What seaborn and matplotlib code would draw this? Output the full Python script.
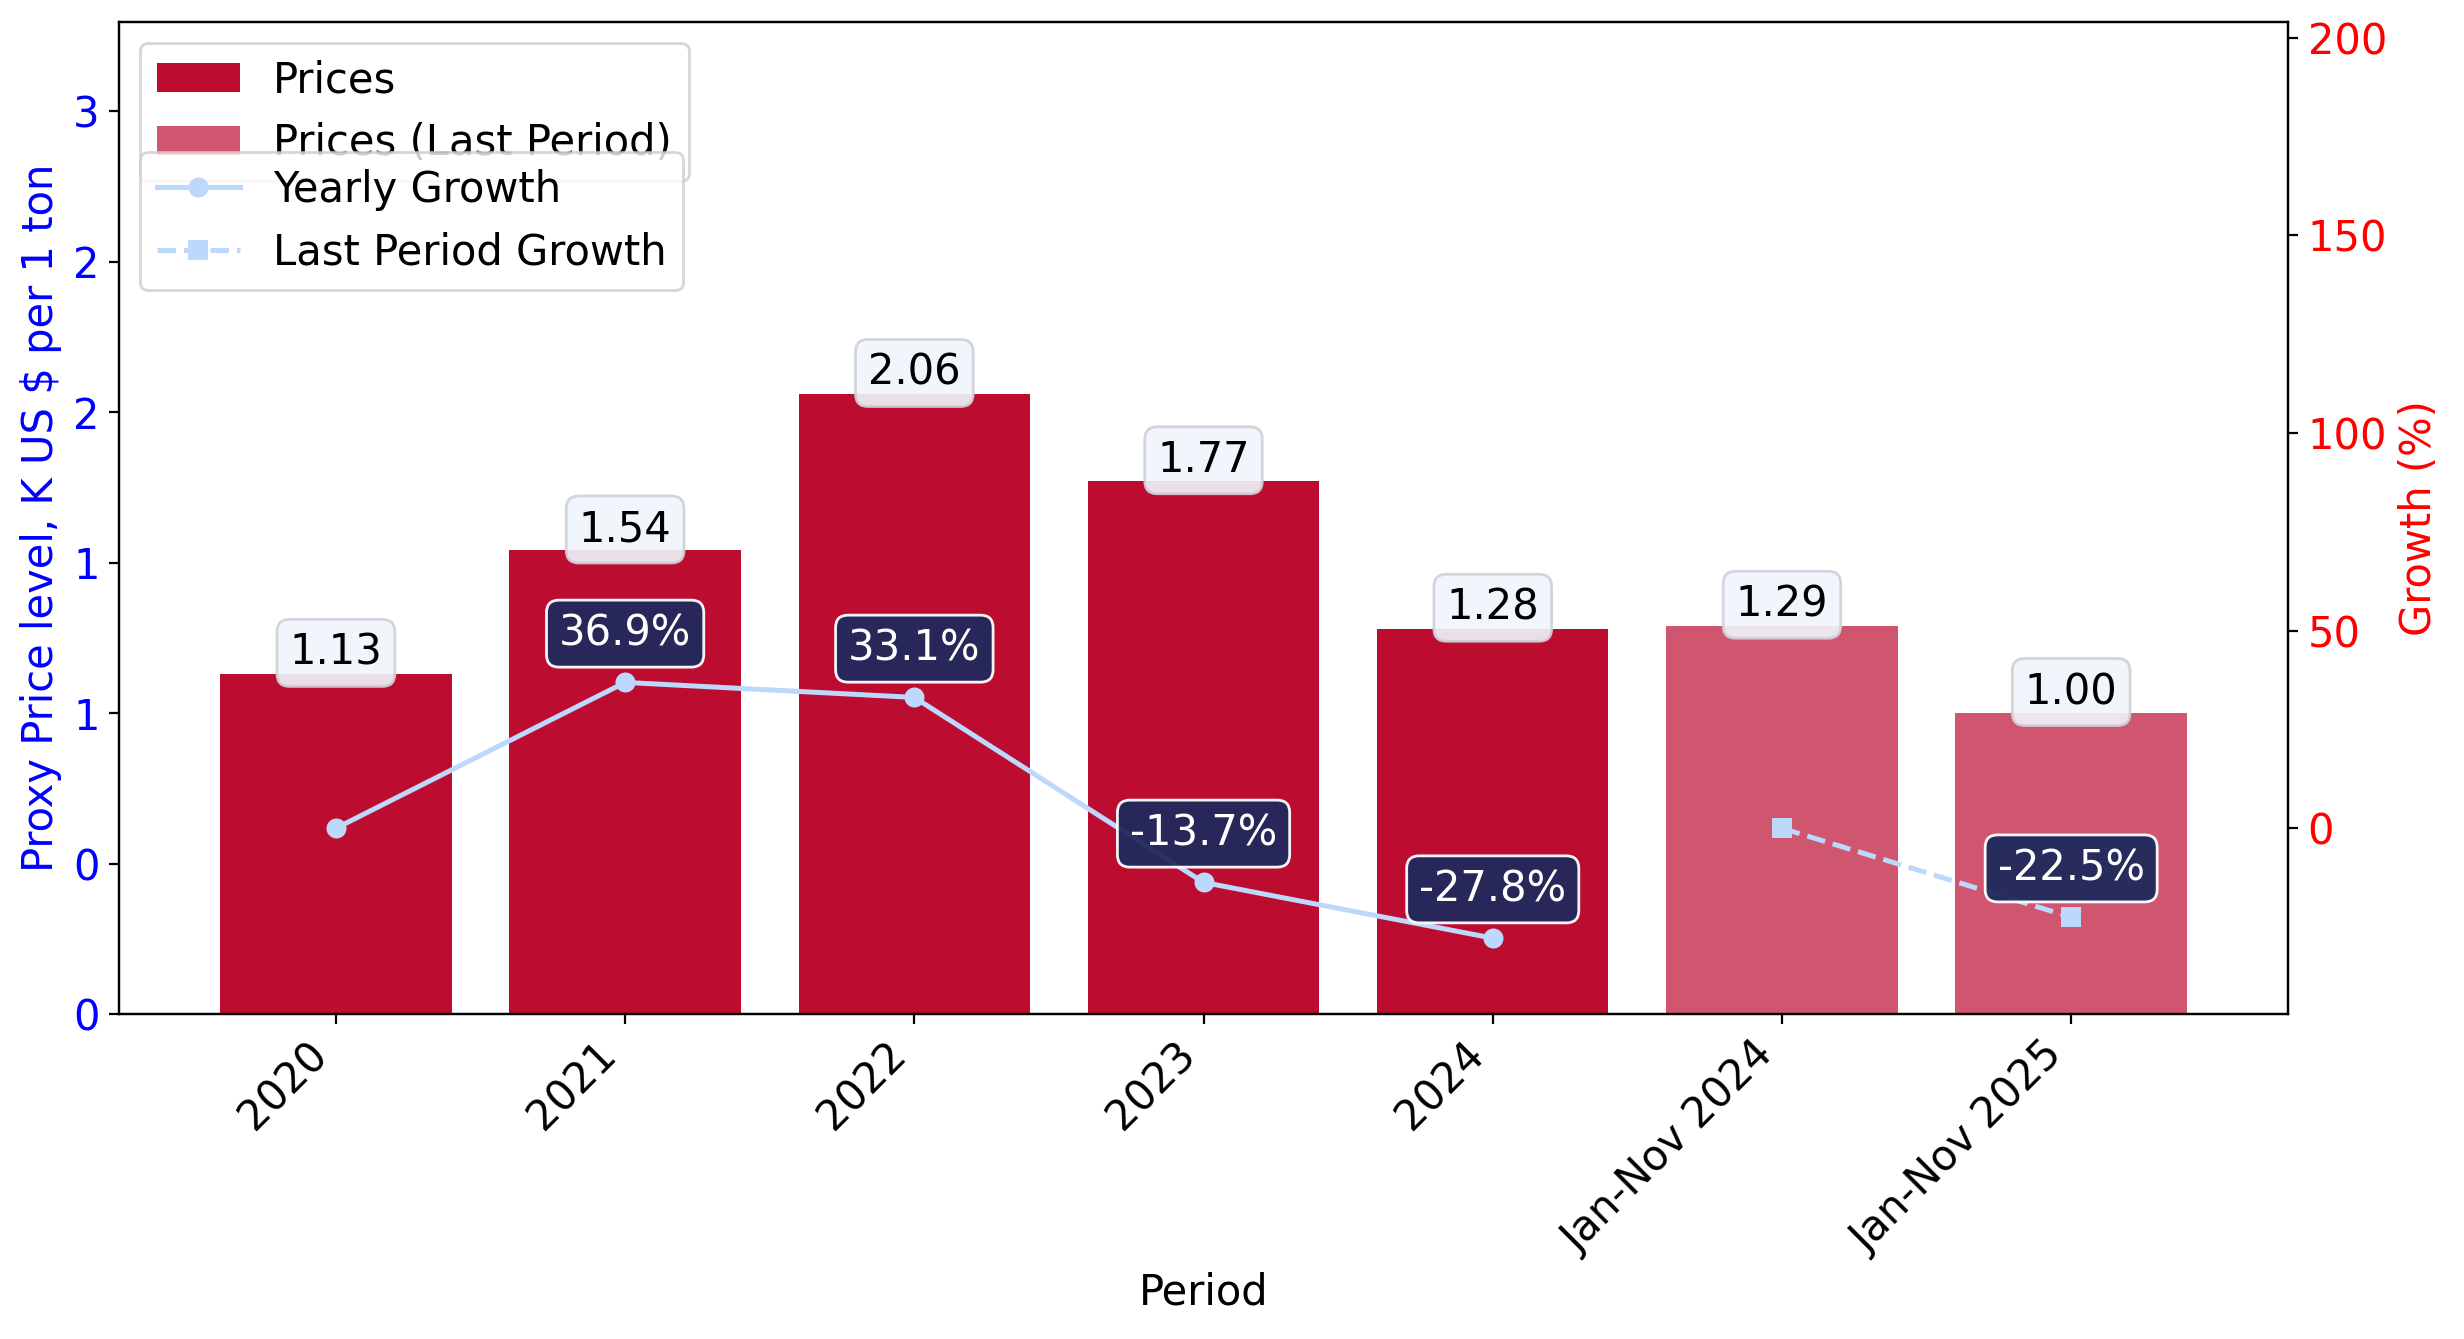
import matplotlib
matplotlib.use("Agg")
import numpy as np
import pandas as pd
import seaborn as sns
import matplotlib.pyplot as plt
from matplotlib.patches import Patch
from matplotlib.ticker import FuncFormatter

# ---- data ----
periods = ["2020", "2021", "2022", "2023", "2024", "Jan-Nov 2024", "Jan-Nov 2025"]
prices = [1.13, 1.54, 2.06, 1.77, 1.28, 1.29, 1.00]
price_types = ["Prices"] * 5 + ["Prices (Last Period)"] * 2
yearly_periods = ["2020", "2021", "2022", "2023", "2024"]
yearly_growth = [0.0, 36.9, 33.1, -13.7, -27.8]
last_periods = ["Jan-Nov 2024", "Jan-Nov 2025"]
last_growth = [0.0, -22.5]

BAR = "#bc0c30"
BAR_LAST = "#d0556f"
LINE = "#bcd8fa"
NAVY = "#1f2a5c"
FS = 15

plt.rcParams["font.size"] = FS
plt.rcParams["font.family"] = ["DejaVu Sans"]

fig, ax = plt.subplots(figsize=(12.32, 6.695), dpi=200)
fig.subplots_adjust(left=0.0483, right=0.9286, top=0.9836, bottom=0.2427)

df = pd.DataFrame({"Period": periods, "Price": prices, "Type": price_types})
sns.barplot(data=df, x="Period", y="Price", hue="Type", order=periods,
            hue_order=["Prices", "Prices (Last Period)"],
            palette={"Prices": BAR, "Prices (Last Period)": BAR_LAST},
            dodge=False, width=0.8, saturation=1, legend=False, ax=ax)

for i, v in enumerate(prices):
    ax.text(i, v, f"{v:.2f}", ha="center", va="bottom", fontsize=FS, color="black",
            bbox=dict(boxstyle="round,pad=0.3", fc="#f0f6fc", ec="#d0d0d8", alpha=0.9))

ax.set_xlim(-0.75, 6.75)
ax.set_ylim(0, max(prices) * 1.6)
ax.set_yticks(np.arange(0, 3.01, 0.5))
ax.yaxis.set_major_formatter(FuncFormatter(lambda v, p: f"{int(v)}"))
ax.tick_params(axis="y", labelcolor="blue", labelsize=FS)
ax.tick_params(axis="x", labelsize=FS)
plt.setp(ax.get_xticklabels(), rotation=45, ha="right")
ax.set_xlabel("Period", fontsize=FS)
ax.set_ylabel("Proxy Price level, K US $ per 1 ton", color="blue", fontsize=FS)

ax.legend(handles=[Patch(facecolor=BAR, label="Prices"),
                   Patch(facecolor=BAR_LAST, label="Prices (Last Period)")],
          loc="upper left", fontsize=FS)

ax2 = ax.twinx()
pos = {p: i for i, p in enumerate(periods)}
gy = pd.DataFrame({"x": [pos[p] for p in yearly_periods], "g": yearly_growth})
gl = pd.DataFrame({"x": [pos[p] for p in last_periods], "g": last_growth})
sns.lineplot(data=gy, x="x", y="g", marker="o", color=LINE, lw=1.8, ms=7.2,
             mec=LINE, mew=0, label="Yearly Growth", ax=ax2)
sns.lineplot(data=gl, x="x", y="g", marker="s", linestyle="--", color=LINE, lw=1.8, ms=7.5,
             mec=LINE, mew=0, label="Last Period Growth", ax=ax2)

for xs, gs in ((gy["x"], yearly_growth), (gl["x"], last_growth)):
    for x, g in zip(xs, gs):
        if g == 0:
            continue
        ax2.annotate(f"{g:.1f}%", (x, g), xytext=(0, 10), textcoords="offset points",
                     ha="center", va="bottom", color="white", fontsize=FS,
                     bbox=dict(boxstyle="round,pad=0.3", fc=NAVY, ec="white", alpha=0.95))

ax2.set_ylim(-47, 204)
ax2.set_yticks([0, 50, 100, 150, 200])
ax2.tick_params(axis="y", labelcolor="red", labelsize=FS)
ax2.set_ylabel("Growth (%)", color="red", fontsize=FS)
ax2.set_xlabel("")
ax2.legend(loc="upper left", bbox_to_anchor=(0, 0.89), fontsize=FS)
ax.set_xlim(-0.75, 6.75)

fig.savefig("out.png", dpi=200)
